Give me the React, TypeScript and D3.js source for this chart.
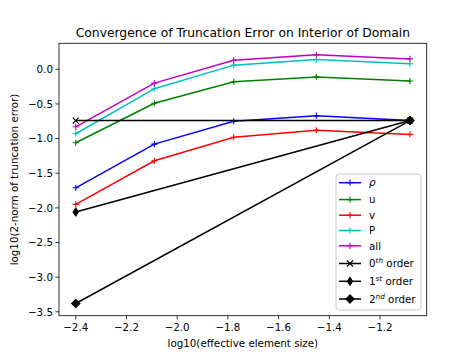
import React from "react";
import * as d3 from "d3";

const xVals = [-2.4, -2.09, -1.777, -1.451, -1.082];
const rho = [-1.71, -1.08, -0.75, -0.67, -0.74];
const uVals = [-1.06, -0.49, -0.18, -0.11, -0.17];
const vVals = [-1.95, -1.32, -0.98, -0.88, -0.94];
const pVals = [-0.93, -0.28, 0.06, 0.14, 0.08];
const allVals = [-0.83, -0.2, 0.13, 0.21, 0.15];
const refX = [-2.4, -1.082];
const order0 = [-0.74, -0.74];
const order1 = [-2.06, -0.74];
const order2 = [-3.38, -0.74];
const xTicks = [-2.4, -2.2, -2.0, -1.8, -1.6, -1.4, -1.2];
const yTicks = [0.0, -0.5, -1.0, -1.5, -2.0, -2.5, -3.0, -3.5];

const W = 474, H = 355;
const L = 59, R = 426.7, T = 43.3, B = 315.7;

type Series = { name: string; x: number[]; y: number[]; color: string; marker: string; sup?: string; base?: string };

const series: Series[] = [
  { name: "ρ", x: xVals, y: rho, color: "#0000ff", marker: "+" },
  { name: "u", x: xVals, y: uVals, color: "#008000", marker: "+" },
  { name: "v", x: xVals, y: vVals, color: "#ff0000", marker: "+" },
  { name: "P", x: xVals, y: pVals, color: "#00bfbf", marker: "+" },
  { name: "all", x: xVals, y: allVals, color: "#bf00bf", marker: "+" },
  { name: "0th order", base: "0", sup: "th", x: refX, y: order0, color: "#000000", marker: "x" },
  { name: "1st order", base: "1", sup: "st", x: refX, y: order1, color: "#000000", marker: "d" },
  { name: "2nd order", base: "2", sup: "nd", x: refX, y: order2, color: "#000000", marker: "D" },
];

const fmt = (v: number) => v.toFixed(1).replace("-", "\u2212");

function Marker({ type, cx, cy, color }: { type: string; cx: number; cy: number; color: string }) {
  if (type === "+") {
    const s = 3.1;
    return <path d={`M${cx - s},${cy}H${cx + s}M${cx},${cy - s}V${cy + s}`} stroke={color} strokeWidth={1.1} />;
  }
  if (type === "x") {
    const s = 3;
    return <path d={`M${cx - s},${cy - s}L${cx + s},${cy + s}M${cx - s},${cy + s}L${cx + s},${cy - s}`} stroke={color} strokeWidth={1.1} />;
  }
  if (type === "d") {
    const w = 2.7, h = 4.3;
    return <path d={`M${cx},${cy - h}L${cx + w},${cy}L${cx},${cy + h}L${cx - w},${cy}Z`} fill={color} stroke={color} strokeWidth={1} />;
  }
  const s = 4.4;
  return <path d={`M${cx},${cy - s}L${cx + s},${cy}L${cx},${cy + s}L${cx - s},${cy}Z`} fill={color} stroke={color} strokeWidth={1} />;
}

export default function App() {
  const x = d3.scaleLinear().domain([-2.466, -1.016]).range([L, R]);
  const y = d3.scaleLinear().domain([-3.556, 0.375]).range([B, T]);
  const line = d3.line<[number, number]>().x(d => x(d[0])).y(d => y(d[1]));
  const font = "DejaVu Sans, sans-serif";

  const legX = 336, legY = 174, legW = 85, legH = 136;
  const rowsY = [182.7, 199.6, 215.2, 230.5, 245.8, 263.5, 281.3, 299];

  return (
    <svg width={W} height={H} style={{ position: "absolute", left: 0, top: 0 }} fontFamily={font}>
      <rect width={W} height={H} fill="#fff" />
      <text x={(L + R) / 2} y={37} fontSize={12.3} textAnchor="middle">Convergence of Truncation Error on Interior of Domain</text>
      {series.map(s => (
        <g key={s.name}>
          <path d={line(s.x.map((v, i) => [v, s.y[i]] as [number, number])) || ""} fill="none" stroke={s.color} strokeWidth={1.5} />
          {s.x.map((v, i) => <Marker key={i} type={s.marker} cx={x(v)} cy={y(s.y[i])} color={s.color} />)}
        </g>
      ))}
      <rect x={L} y={T} width={R - L} height={B - T} fill="none" stroke="#000" strokeWidth={0.8} />
      {xTicks.map(t => (
        <g key={t}>
          <line x1={x(t)} x2={x(t)} y1={B} y2={B + 3.6} stroke="#000" strokeWidth={0.8} />
          <text x={x(t)} y={B + 15} fontSize={10.3} textAnchor="middle">{fmt(t)}</text>
        </g>
      ))}
      {yTicks.map(t => (
        <g key={t}>
          <line x1={L - 3.6} x2={L} y1={y(t)} y2={y(t)} stroke="#000" strokeWidth={0.8} />
          <text x={L - 6} y={y(t) + 3.7} fontSize={10.3} textAnchor="end">{fmt(t)}</text>
        </g>
      ))}
      <text x={(L + R) / 2} y={347} fontSize={10.3} textAnchor="middle">log10(effective element size)</text>
      <text transform={`translate(18,${(T + B) / 2}) rotate(-90)`} fontSize={10.3} textAnchor="middle">log10(2-norm of truncation error)</text>
      <rect x={legX} y={legY} width={legW} height={legH} rx={3} fill="#fff" fillOpacity={0.8} stroke="#cccccc" strokeWidth={1} />
      {series.map((s, i) => {
        const ry = rowsY[i];
        return (
          <g key={"leg" + s.name}>
            <line x1={339} x2={361} y1={ry} y2={ry} stroke={s.color} strokeWidth={1.5} />
            <Marker type={s.marker} cx={350} cy={ry} color={s.color} />
            {s.sup ? (
              <text x={369} y={ry + 3.7} fontSize={10.3}>
                {s.base}
                <tspan dy={-4} fontSize={7.3} fontStyle="italic">{s.sup}</tspan>
                <tspan dy={4}>{" order"}</tspan>
              </text>
            ) : (
              <text x={369} y={ry + 3.7} fontSize={10.3} fontStyle={s.name === "ρ" ? "italic" : "normal"}>{s.name}</text>
            )}
          </g>
        );
      })}
    </svg>
  );
}
